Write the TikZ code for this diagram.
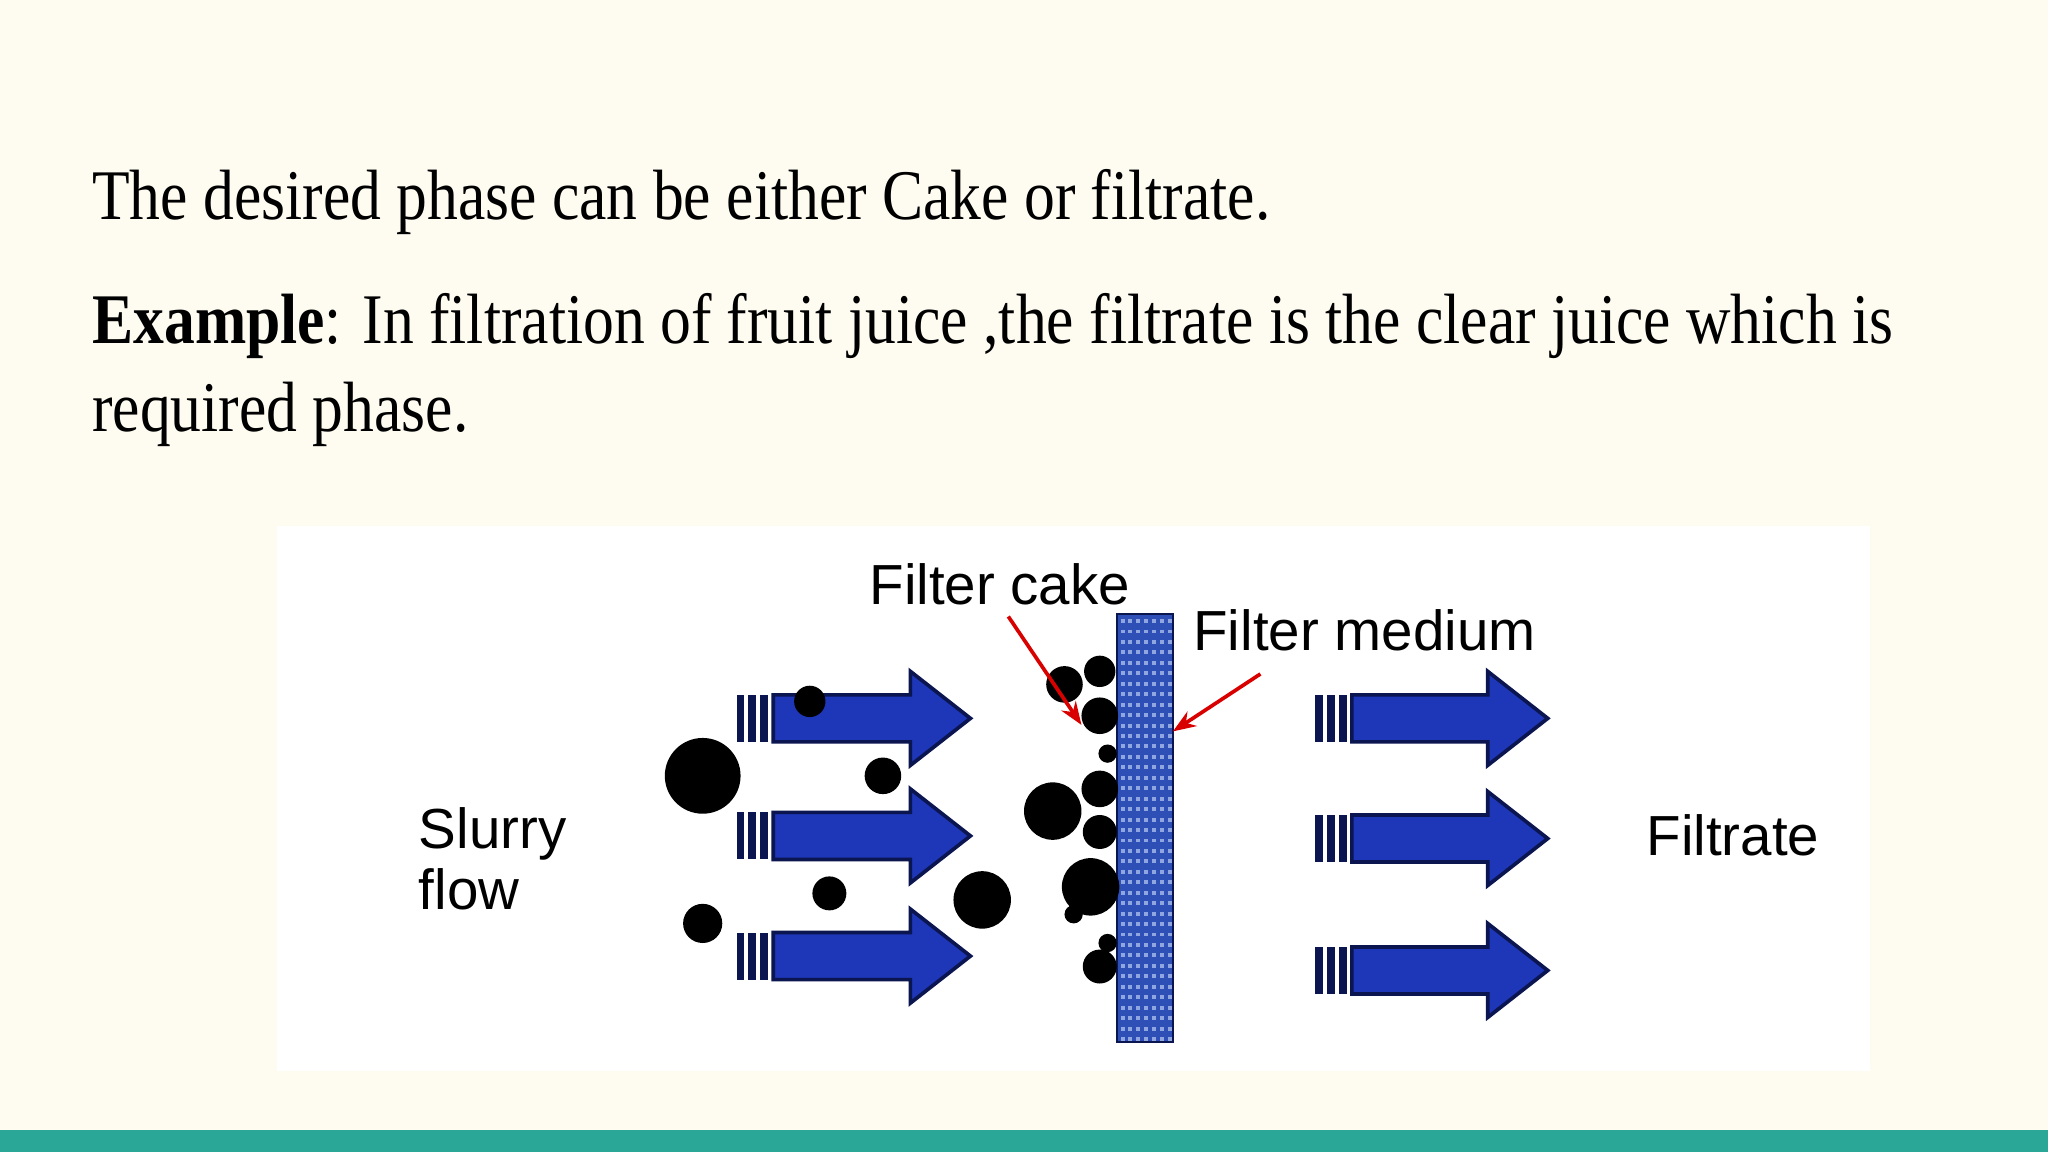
\documentclass[tikz,border=0pt]{standalone}
\usepackage{fontspec}
\usetikzlibrary{arrows.meta}
\setmainfont[FakeStretch=0.865]{Liberation Serif}
\newfontfamily\lbl{Liberation Sans}
\begin{document}
\begin{tikzpicture}[x=0.01cm,y=-0.01cm]
\definecolor{cream}{HTML}{FEFBF0}
\definecolor{teal}{HTML}{2AA797}
\definecolor{ablue}{HTML}{1E36B8}
\definecolor{aline}{HTML}{0B1550}
\definecolor{mblue}{HTML}{2E4FB5}
\definecolor{mlight}{HTML}{8FA6E0}
\tikzset{
  body/.style={font=\fontsize{15.5}{18}\selectfont, anchor=base west, inner sep=0pt},
  lab/.style={font=\lbl\fontsize{12.3}{14}\selectfont, anchor=base west, inner sep=0pt},
  barrow/.style={fill=ablue, draw=aline, line width=0.8pt},
  stripe/.style={fill=aline},
  dot/.style={fill=black},
  redarr/.style={draw=red!85!black, line width=0.8pt, -{Stealth[length=5pt]}}
}
\fill[cream] (0,0) rectangle (1568,882);
\useasboundingbox (0,0) rectangle (1568,882);
\fill[teal] (0,865) rectangle (1568,882);
\node[body] (t1) at (70,168) {The desired phase can be either Cake or filtrate.};
\node[body] (t2) at (70,263) {\textbf{Example}: In filtration of fruit juice ,the filtrate is the clear juice which is};
\node[body] (t3) at (70,330) {required phase.};
\fill[white] (212,403) rectangle (1432,820);
% filter medium
\fill[mblue] (855,470) rectangle (898,798);
\foreach \i in {0,...,40}{
  \foreach \j in {0,...,6}{
    \fill[mlight] ({858+\j*6},{474+\i*8}) rectangle ({861+\j*6},{477+\i*8});
  }
}
\draw[aline, line width=0.4pt] (855,470) rectangle (898,798);
% arrows
\foreach \yc/\xs/\xe in {550/592/743, 640/592/743, 732/592/743, 550/1035/1185, 642/1035/1185, 743/1035/1185}{
  \draw[barrow] (\xs,\yc-18) -- (\xe-46,\yc-18) -- (\xe-46,\yc-36) -- (\xe,\yc) -- (\xe-46,\yc+36) -- (\xe-46,\yc+18) -- (\xs,\yc+18) -- cycle;
  \foreach \k in {0,1,2}{
    \fill[stripe] ({\xs-28+\k*9},\yc-18) rectangle ({\xs-22+\k*9},\yc+18);
  }
}
% particles
\foreach \px/\py/\r in {620/537/12, 538/594/29, 676/594/14, 806/621/22, 635/684/13, 752/689/22, 538/707/15,
  815/524/14, 842/514/12, 842/548/14, 848/577/7, 842/604/14, 842/637/13, 835/679/22, 822/700/7, 848/722/7, 842/740/13}{
  \fill[dot] (\px,\py) circle[radius=\r];
}
% labels
\node[lab] (fc) at (665,463) {Filter cake};
\node[lab] (fm) at (913,498) {Filter medium};
\node[lab] (sf1) at (320,650) {Slurry};
\node[lab] (sf2) at (320,696) {flow};
\node[lab] (ft) at (1260,655) {Filtrate};
\coordinate (c1) at (772,472);
\coordinate (c2) at (828,555);
\coordinate (m1) at (965,516);
\coordinate (m2) at (898,560);
\draw[redarr] (c1) -- (c2);
\draw[redarr] (m1) -- (m2);
\end{tikzpicture}
\end{document}
